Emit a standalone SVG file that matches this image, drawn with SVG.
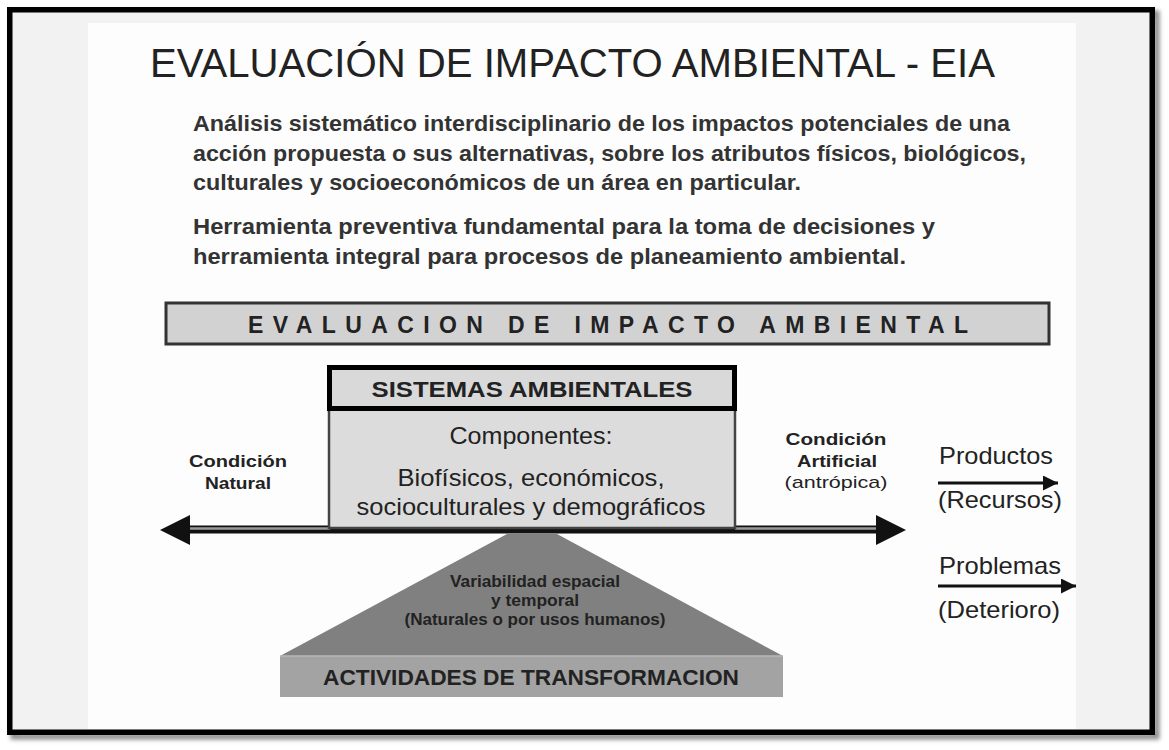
<svg xmlns="http://www.w3.org/2000/svg" width="1169" height="750" viewBox="0 0 1169 750">
<style>
.t{font-family:"Liberation Sans",Arial,Helvetica,sans-serif;fill:#222}
.b{font-weight:bold}
.c{text-anchor:middle}
.para{font-size:22px;font-weight:bold;fill:#333}
.lbl{font-size:17px;font-weight:bold}
.big{font-size:24px}
</style>
<defs>
<filter id="sh" x="-5%" y="-5%" width="110%" height="110%"><feGaussianBlur stdDeviation="2"/></filter>
<marker id="ah" viewBox="0 0 10 10" refX="10" refY="5" markerWidth="5" markerHeight="5" markerUnits="strokeWidth" orient="auto"><path d="M0,0 L10,5 L0,10 Z" fill="#111"/></marker>
</defs>
<rect width="1169" height="750" fill="#fff"/>
<g id="frame">
<rect x="13.5" y="13.5" width="1143" height="723" fill="none" stroke="#8a8a8a" stroke-width="6" filter="url(#sh)"/>
<rect x="9.75" y="9.75" width="1142.5" height="722.5" fill="#f2f2f2" stroke="#000" stroke-width="5.5"/>
<rect x="88" y="23" width="988" height="706" fill="#fcfdfc"/>
</g>
<g id="title">
<text class="t" x="150" y="77" font-size="40" textLength="845" lengthAdjust="spacingAndGlyphs">EVALUACIÓN DE IMPACTO AMBIENTAL - EIA</text>
</g>
<g id="description">
<text class="t para" x="193" y="131" textLength="817" lengthAdjust="spacingAndGlyphs">Análisis sistemático interdisciplinario de los impactos potenciales de una</text>
<text class="t para" x="193" y="161" textLength="833" lengthAdjust="spacingAndGlyphs">acción propuesta o sus alternativas, sobre los atributos físicos, biológicos,</text>
<text class="t para" x="193" y="190" textLength="608" lengthAdjust="spacingAndGlyphs">culturales y socioeconómicos de un área en particular.</text>
<text class="t para" x="193" y="234" textLength="742" lengthAdjust="spacingAndGlyphs">Herramienta preventiva fundamental para la toma de decisiones y</text>
<text class="t para" x="193" y="264" textLength="713" lengthAdjust="spacingAndGlyphs">herramienta integral para procesos de planeamiento ambiental.</text>
</g>
<g id="banner">
<rect x="166" y="303" width="883" height="41" fill="#d2d2d2" stroke="#333" stroke-width="3"/>
<text class="t b" x="248" y="333" font-size="23" textLength="720" lengthAdjust="spacing">EVALUACION  DE  IMPACTO  AMBIENTAL</text>
</g>
<g id="connectors">
<line x1="186" y1="529.5" x2="879" y2="529.5" stroke="#111" stroke-width="8"/>
<line x1="186" y1="528.5" x2="330" y2="528.5" stroke="#9a9a9a" stroke-width="2.5"/>
<line x1="735" y1="528.5" x2="879" y2="528.5" stroke="#9a9a9a" stroke-width="2.5"/>
<polygon points="160,530 190,515 190,545" fill="#111"/>
<polygon points="906,530 876,515 876,545" fill="#111"/>
<line x1="938" y1="483" x2="1058" y2="483" stroke="#111" stroke-width="3" marker-end="url(#ah)"/>
<line x1="938" y1="586" x2="1076" y2="586" stroke="#111" stroke-width="3" marker-end="url(#ah)"/>
</g>
<g id="sistemas">
<rect x="329" y="409" width="406" height="119" fill="#dcdcdc" stroke="#444" stroke-width="2.5"/>
<rect x="329.5" y="367.5" width="405" height="41" fill="#d9d9d9" stroke="#000" stroke-width="5"/>
<text class="t b c" x="532" y="397" font-size="22" textLength="321" lengthAdjust="spacingAndGlyphs">SISTEMAS AMBIENTALES</text>
<text class="t c big" x="531" y="444" textLength="163" lengthAdjust="spacingAndGlyphs">Componentes:</text>
<text class="t c big" x="531" y="486" textLength="267" lengthAdjust="spacingAndGlyphs">Biofísicos, económicos,</text>
<text class="t c big" x="531" y="515" textLength="349" lengthAdjust="spacingAndGlyphs">socioculturales y demográficos</text>
</g>
<g id="actividades">
<polygon points="507,534 557,534 783,656 280,656" fill="#808080"/>
<rect x="280" y="656" width="503" height="41" fill="#a3a3a3"/>
<line x1="280" y1="656" x2="783" y2="656" stroke="#b8b8b8" stroke-width="1.5"/>
<text class="t b c" x="535" y="587" font-size="16" textLength="170" lengthAdjust="spacingAndGlyphs" fill="#1a1a1a">Variabilidad espacial</text>
<text class="t b c" x="535" y="606" font-size="16" textLength="88" lengthAdjust="spacingAndGlyphs" fill="#1a1a1a">y temporal</text>
<text class="t b c" x="535" y="625" font-size="16" textLength="261" lengthAdjust="spacingAndGlyphs" fill="#1a1a1a">(Naturales o por usos humanos)</text>
<text class="t b c" x="531" y="685" font-size="22" textLength="416" lengthAdjust="spacingAndGlyphs">ACTIVIDADES DE TRANSFORMACION</text>
</g>
<g id="condicion-natural">
<text class="t lbl c" x="238" y="467" textLength="98" lengthAdjust="spacingAndGlyphs">Condición</text>
<text class="t lbl c" x="238" y="489" textLength="66" lengthAdjust="spacingAndGlyphs">Natural</text>
</g>
<g id="condicion-artificial">
<text class="t lbl c" x="836" y="445" textLength="101" lengthAdjust="spacingAndGlyphs">Condición</text>
<text class="t lbl c" x="837" y="467" textLength="80" lengthAdjust="spacingAndGlyphs">Artificial</text>
<text class="t c" x="836" y="488" font-size="17" textLength="103" lengthAdjust="spacingAndGlyphs">(antrópica)</text>
</g>
<g id="productos">
<text class="t big" x="939" y="464" textLength="114" lengthAdjust="spacingAndGlyphs">Productos</text>
<text class="t big" x="938" y="508" textLength="124" lengthAdjust="spacingAndGlyphs">(Recursos)</text>
</g>
<g id="problemas">
<text class="t big" x="939" y="574" textLength="122" lengthAdjust="spacingAndGlyphs">Problemas</text>
<text class="t big" x="938" y="618" textLength="122" lengthAdjust="spacingAndGlyphs">(Deterioro)</text>
</g>
</svg>
